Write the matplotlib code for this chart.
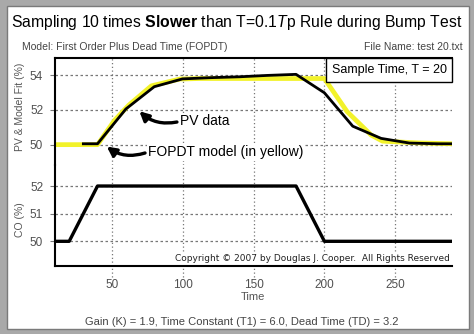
import matplotlib
matplotlib.use("Agg")
import matplotlib.pyplot as plt
from matplotlib.patches import Rectangle

plt.rcParams['font.family'] = ['Liberation Sans', 'DejaVu Sans']
plt.rcParams['mathtext.fontset'] = 'custom'
plt.rcParams['mathtext.rm'] = 'Liberation Sans'
plt.rcParams['mathtext.bf'] = 'Liberation Sans:bold'
plt.rcParams['mathtext.it'] = 'Liberation Sans:italic'

# data
time_pv = [30, 40, 60, 80, 100, 120, 140, 160, 180, 200, 220, 240, 260, 280, 290]
pv = [50.05, 50.05, 52.05, 53.33, 53.78, 53.85, 53.9, 53.98, 54.04, 52.98, 51.06, 50.36, 50.09, 50.05, 50.05]

time_model = [10, 40, 52, 62, 78, 98, 112, 200, 216, 233, 241, 266, 290]
model = [50.0, 50.0, 51.4, 52.27, 53.38, 53.77, 53.8, 53.8, 51.9, 50.55, 50.2, 50.1, 50.05]

time_co = [10, 20, 40, 180, 200, 290]
co = [50, 50, 52, 52, 50, 50]

pv_ticks = [50, 52, 54]
co_ticks = [50, 51, 52]
time_ticks = [50, 100, 150, 200, 250]

W, H = 474, 334


def px(x, y):
    # pixel position -> figure fraction
    return x / W, 1 - y / H


fig = plt.figure(figsize=(W / 100, H / 100), dpi=100)

# grey frame round the picture
fig.patches.append(Rectangle((0, 0), 1, 1, transform=fig.transFigure,
                             facecolor='#a9a9a9', edgecolor='none', zorder=-10))
x0, y0 = px(7, 329)
x1, y1 = px(469, 6)
fig.patches.append(Rectangle((x0, y0), x1 - x0, y1 - y0, transform=fig.transFigure,
                             facecolor='white', edgecolor='#7a7a7a', lw=1, zorder=-9))

left, right = 55, 452
top, mid, bottom = 58, 165, 266
ax1 = fig.add_axes([left / W, 1 - mid / H, (right - left) / W, (mid - top) / H])
ax2 = fig.add_axes([left / W, 1 - bottom / H, (right - left) / W, (bottom - mid) / H], sharex=ax1)

grid_c = '#777777'
for ax in (ax1, ax2):
    ax.set_facecolor('none')
    ax.spines['right'].set_visible(False)
    ax.spines['left'].set_linewidth(1.5)
    ax.tick_params(axis='y', length=3.5, width=0.8, color=grid_c, pad=5,
                   labelsize=8.5, labelcolor='#505050')
    ax.tick_params(axis='x', length=0)
    for t in time_ticks:
        ax.axvline(t, color=grid_c, lw=0.9, ls=(0, (1, 2)), zorder=0)

ax1.spines['bottom'].set_visible(False)
ax1.spines['top'].set_linewidth(1.5)
ax2.spines['top'].set_visible(False)
ax2.spines['bottom'].set_linewidth(1.5)

# top panel: PV and model
for y in pv_ticks:
    ax1.axhline(y, color=grid_c, lw=0.9, ls=(0, (2, 2)), zorder=0)
ax1.plot(time_model, model, color='#f2f22a', lw=3.4, solid_capstyle='butt', zorder=2)
ax1.plot(time_pv, pv, color='black', lw=2.0, zorder=3)
ax1.set_xlim(10, 290)
ax1.set_ylim(48.83, 54.98)
ax1.set_yticks(pv_ticks)
ax1.tick_params(axis='x', labelbottom=False)

# labels, then the curved arrows drawn on their own
ax1.text(98.4, 51.36, 'PV data', fontsize=10, va='center', ha='left', zorder=5,
         bbox=dict(facecolor='white', edgecolor='none', pad=1))
ax1.text(75.9, 49.56, 'FOPDT model (in yellow)', fontsize=10, va='center', ha='left', zorder=5,
         bbox=dict(facecolor='white', edgecolor='none', pad=1))
arrow = dict(arrowstyle='-|>,head_length=0.55,head_width=0.28', color='black',
             lw=2.4, shrinkA=0, shrinkB=0, connectionstyle='arc3,rad=-0.25')
ax1.annotate('', xy=(69.5, 51.92), xytext=(96, 51.3), arrowprops=arrow, zorder=6)
ax1.annotate('', xy=(46.5, 49.89), xytext=(73.5, 49.52), arrowprops=arrow, zorder=6)

ax1.add_patch(Rectangle((0.6826, 0.7785), 0.3174, 0.2215, transform=ax1.transAxes,
                        facecolor='white', edgecolor='black', lw=1, zorder=6, clip_on=False))
ax1.text(0.842, 0.889, 'Sample Time, T = 20', transform=ax1.transAxes, fontsize=9,
         ha='center', va='center', zorder=7)

# bottom panel: CO
for y in co_ticks:
    ax2.axhline(y, color=grid_c, lw=0.9, ls=(0, (2, 2)), zorder=0)
for t in time_ticks:
    ax2.axvline(t, ymin=-0.11, ymax=0, color=grid_c, lw=0.9, ls=(0, (1, 2)), clip_on=False)
ax2.plot(time_co, co, color='black', lw=2.4, zorder=3)
ax2.set_ylim(49.107, 52.76)
ax2.set_yticks(co_ticks)
ax2.set_xticks(time_ticks)
ax2.tick_params(axis='x', pad=9, labelsize=8.5, labelcolor='#505050')
ax2.text(0.995, 0.07, 'Copyright \u00a9 2007 by Douglas J. Cooper.  All Rights Reserved',
         transform=ax2.transAxes, fontsize=6.5, family='DejaVu Sans', color='#222222',
         ha='right', va='center', zorder=5,
         bbox=dict(facecolor='white', edgecolor='none', pad=0.5))

# texts round the plot
fig.text(*px(237, 22), r'Sampling 10 times $\mathbf{Slower}$ than T=0.1$\mathit{T}$p Rule during Bump Test',
         fontsize=11.3, ha='center', va='center')
fig.text(*px(22, 47), 'Model: First Order Plus Dead Time (FOPDT)', fontsize=7.5,
         color='#444444', ha='left', va='center')
fig.text(*px(463, 47), 'File Name: test 20.txt', fontsize=7.5,
         color='#444444', ha='right', va='center')
fig.text(*px(20, 107), 'PV & Model Fit (%)', fontsize=7.5, color='#555555',
         rotation=90, ha='center', va='center')
fig.text(*px(20, 220), 'CO (%)', fontsize=7.5, color='#555555',
         rotation=90, ha='center', va='center')
fig.text(*px(253, 297), 'Time', fontsize=8, color='#555555', ha='center', va='center')
fig.text(*px(242, 322), 'Gain (K) = 1.9, Time Constant (T1) = 6.0, Dead Time (TD) = 3.2',
         fontsize=8, color='#444444', ha='center', va='center')

fig.savefig('out.png', dpi=100)
